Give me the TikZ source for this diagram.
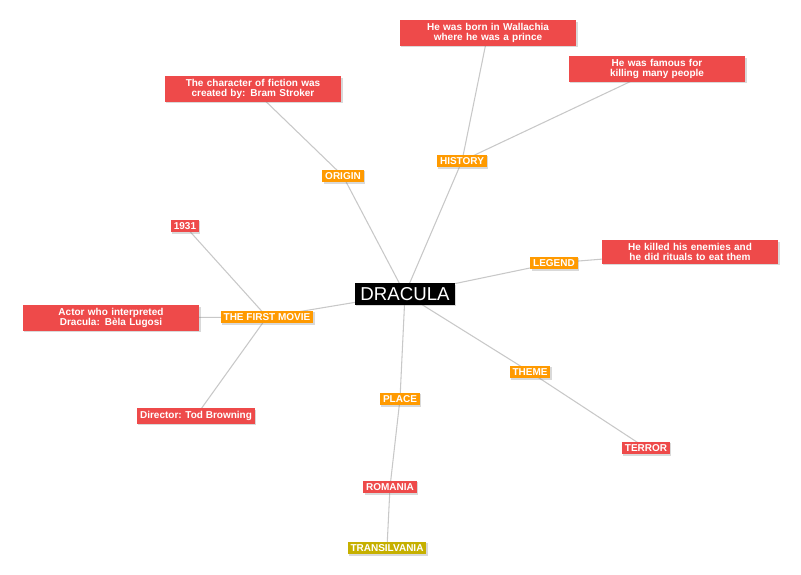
\documentclass[tikz,border=0pt]{standalone}
\usepackage{fontspec}
\setmainfont{Liberation Sans}
\usetikzlibrary{backgrounds,shadows}
\definecolor{org}{HTML}{FF9A00}
\definecolor{rd}{HTML}{EE4A4A}
\definecolor{olv}{HTML}{C6B000}
\definecolor{ln}{HTML}{C8C8C8}
\begin{document}
\begin{tikzpicture}[x=0.75pt,y=-0.75pt,
  base/.style={text=white,font=\bfseries\fontsize{7.5}{8}\selectfont,inner sep=2.2pt,align=center,drop shadow={shadow xshift=1pt,shadow yshift=-1pt,opacity=0.3}},
  topic/.style={base,fill=org},
  leaf/.style={base,fill=rd},
  wide/.style={leaf,text width=128pt,inner ysep=2pt},
  olive/.style={base,fill=olv},
  edge/.style={draw=ln,line width=0.8pt}]
\useasboundingbox (0,0) rectangle (801,575);
\node[fill=black,text=white,font=\fontsize{14}{16}\selectfont,inner xsep=4pt,inner ysep=3pt,drop shadow={shadow xshift=1pt,shadow yshift=-1pt,opacity=0.3}] (d) at (405,294) {DRACULA};
\node[topic] (o) at (343,176) {ORIGIN};
\node[topic] (h) at (462,161) {HISTORY};
\node[topic] (l) at (554,263) {LEGEND};
\node[topic] (t) at (530,372) {THEME};
\node[topic] (p) at (400,399) {PLACE};
\node[topic] (m) at (267,317) {THE FIRST MOVIE};
\node[wide] (o1) at (253,89) {The character of fiction was created by: Bram Stroker};
\node[wide] (h1) at (488,33) {He was born in Wallachia where he was a prince};
\node[wide] (h2) at (657,69) {He was famous for killing many people};
\node[wide] (l1) at (690,252) {He killed his enemies and he did rituals to eat them};
\node[leaf] (t1) at (646,448) {TERROR};
\node[leaf] (p1) at (390,487) {ROMANIA};
\node[olive] (p2) at (387,548) {TRANSILVANIA};
\node[leaf] (m1) at (185,226) {1931};
\node[wide] (m2) at (111,318) {Actor who interpreted Dracula: Bèla Lugosi};
\node[leaf] (m3) at (196,416) {Director: Tod Browning};
\begin{scope}[on background layer]
\foreach \a/\b in {d/o,d/h,d/l,d/t,d/p,d/m,o/o1,h/h1,h/h2,l/l1,t/t1,p/p1,p1/p2,m/m1,m/m2,m/m3}
  \draw[edge] (\a.center) -- (\b.center);
\end{scope}
\end{tikzpicture}
\end{document}
